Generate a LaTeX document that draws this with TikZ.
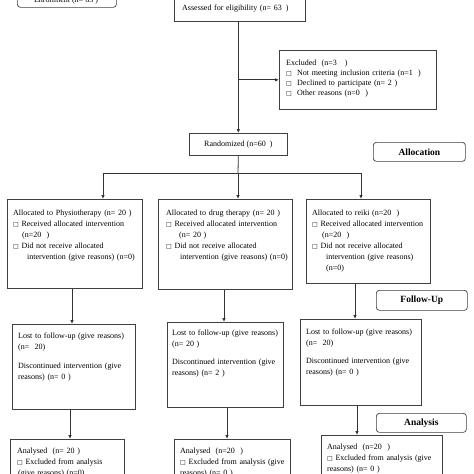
\documentclass[tikz,border=0pt]{standalone}
\usepackage{fontspec}
\setmainfont{Liberation Serif}
\newfontfamily\symf{DejaVu Sans}
\usetikzlibrary{arrows.meta}
\newcommand\cbx{{\symf\fontsize{6}{6}\selectfont □}}
\tikzset{
 box/.style={draw=black!75, line width=0.7pt, anchor=north west, inner sep=0pt},
 txt/.style={anchor=base west, align=left, inner sep=0pt, text width=160pt, font=\fontsize{8}{11}\selectfont},
 head/.style={draw=black!75, rounded corners=3pt, line width=0.7pt, anchor=north west, inner sep=0pt, font=\bfseries\fontsize{9.5}{11}\selectfont},
 arr/.style={draw=black!80, line width=0.8pt, -{Latex[length=4pt,width=3.5pt]}},
 ln/.style={draw=black!80, line width=0.8pt}
}
\begin{document}
\begin{tikzpicture}[x=1pt,y=-1pt]
\useasboundingbox (0,0) rectangle (474,474);
\fill[white] (0,0) rectangle (474,474);
% enrollment (cut off)
\node[head, font=\fontsize{8}{11}\selectfont, minimum width=99pt, minimum height=30pt] (enr) at (17,-23) {};
\node[anchor=base, inner sep=0pt, font=\fontsize{8}{11}\selectfont] (enrt) at (66,2) {Enrollment (n= 63 )};
% assessed
\node[box, minimum width=131pt, minimum height=35pt] (assess) at (174,-14) {};
\node[txt] (assesst) at (182,10.5) {Assessed for eligibility (n= 63 \,)};
% excluded
\node[box, minimum width=157pt, minimum height=59pt] (excl) at (279,50) {};
\node[txt, font=\fontsize{8}{10}\selectfont] (exclt) at (286,65.5) {Excluded \ (n=3 \ \ )\\
\cbx\ \ Not meeting inclusion criteria (n=1 \ )\\
\cbx\ \ Declined to participate (n= 2 )\\
\cbx\ \ Other reasons (n=0 \ )};
% randomized
\node[box, minimum width=98pt, minimum height=22pt] (rand) at (189,133) {};
\node[anchor=center, inner sep=0pt, font=\fontsize{8}{11}\selectfont] (randt) at (rand.center) {Randomized (n=60 \ )};
% headings
\node[head, minimum width=92pt, minimum height=19pt] (hall) at (373,142) {};
\node[inner sep=0pt, font=\bfseries\fontsize{9.5}{11}\selectfont] (hallt) at (hall.center) {Allocation};
\node[head, minimum width=91pt, minimum height=20pt] (hfol) at (376,290) {};
\node[inner sep=0pt, font=\bfseries\fontsize{9.5}{11}\selectfont] (hfolt) at (hfol.center) {Follow-Up};
\node[head, minimum width=90pt, minimum height=19pt] (hana) at (376,413) {};
\node[inner sep=0pt, font=\bfseries\fontsize{9.5}{11}\selectfont] (hanat) at (hana.center) {Analysis};
% allocation boxes
\node[box, minimum width=135pt, minimum height=89pt] (a1) at (7,199) {};
\node[txt] (a1t) at (13,215.5) {Allocated to Physiotherapy (n= 20 )\\
\cbx\ Received allocated intervention\\
\hspace*{9pt}(n=20 \ )\\
\cbx\ Did not receive allocated\\
\hspace*{14pt}intervention (give reasons) (n=0)};
\node[box, minimum width=134pt, minimum height=90pt] (a2) at (158,199) {};
\node[txt] (a2t) at (166,215.5) {Allocated to drug therapy (n= 20 )\\
\cbx\ Received allocated intervention\\
\hspace*{13pt}(n= 20 )\\
\cbx\ Did not receive allocated\\
\hspace*{14pt}intervention (give reasons) (n=0)};
\node[box, minimum width=124pt, minimum height=84pt] (a3) at (306,199) {};
\node[txt] (a3t) at (312,215.5) {Allocated to reiki (n=20 \ )\\
\cbx\ Received allocated intervention\\
\hspace*{10pt}(n=20 \ )\\
\cbx\ Did not receive allocated\\
\hspace*{14pt}intervention (give reasons)\\
\hspace*{14pt}(n=0)};
% follow-up boxes
\node[box, minimum width=123pt, minimum height=85pt] (f1) at (12,324) {};
\node[txt] (f1t) at (18,338.5) {Lost to follow-up (give reasons)\\
(n= \ 20)\\[8pt]
Discontinued intervention (give\\
reasons) (n= 0 )};
\node[box, minimum width=116pt, minimum height=85pt] (f2) at (167,322) {};
\node[txt] (f2t) at (172,335.5) {Lost to follow-up (give reasons)\\
(n= 20 )\\[7pt]
Discontinued intervention (give\\
reasons) (n= 2 )};
\node[box, minimum width=121pt, minimum height=86pt] (f3) at (300,319) {};
\node[txt] (f3t) at (306,334.5) {Lost to follow-up (give reasons)\\
(n= \ 20)\\[7pt]
Discontinued intervention (give\\
reasons) (n= 0 )};
% analysis boxes
\node[box, minimum width=114pt, minimum height=60pt] (an1) at (10,439) {};
\node[txt] (an1t) at (17,453.5) {Analysed \ (n= 20 )\\
\cbx\ Excluded from analysis\\
\hspace*{1pt}(give reasons) (n=0)};
\node[box, minimum width=116pt, minimum height=60pt] (an2) at (174,439) {};
\node[txt] (an2t) at (180,453.5) {Analysed \ (n=20 \ )\\
\cbx\ Excluded from analysis (give\\
reasons) (n= 0 )};
\node[box, minimum width=121pt, minimum height=60pt] (an3) at (321,435) {};
\node[txt] (an3t) at (327,449.5) {Analysed \ (n=20 \ )\\
\cbx\ Excluded from analysis (give\\
reasons) (n= 0 )};
% connectors
\coordinate (split) at (238,173);
\coordinate (s1) at (103,173);
\coordinate (s3) at (361,173);
\coordinate (c1) at (72,0);
\coordinate (c2) at (224,0);
\coordinate (c3) at (355,0);
\coordinate (d1) at (70,0);
\coordinate (d2) at (227,0);
\coordinate (d3) at (357,0);
\draw[arr] (assess.south -| rand.north) -- (rand.north);
\draw[arr] (rand.north |- excl.west) -- (excl.west);
\draw[ln] (rand.south) -- (split);
\draw[ln] (s1) -- (s3);
\draw[arr] (s1) -- (s1 |- a1.north);
\draw[arr] (split) -- (split |- a2.north);
\draw[arr] (s3) -- (s3 |- a3.north);
\draw[arr] (a1.south -| c1) -- (f1.north -| c1);
\draw[arr] (a2.south -| c2) -- (f2.north -| c2);
\draw[arr] (a3.south -| c3) -- (f3.north -| c3);
\draw[arr] (f1.south -| d1) -- (an1.north -| d1);
\draw[arr] (f2.south -| d2) -- (an2.north -| d2);
\draw[arr] (f3.south -| d3) -- (an3.north -| d3);
\end{tikzpicture}
\end{document}
